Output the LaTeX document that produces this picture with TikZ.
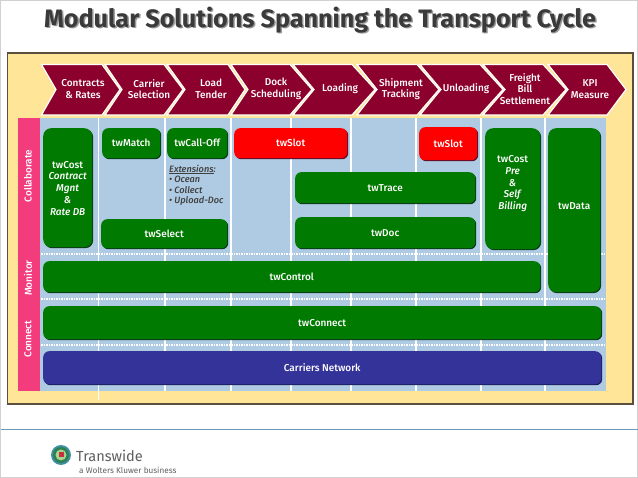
\documentclass[tikz,border=0pt]{standalone}
\usepackage{fontspec}
\setmainfont[BoldFont={Fira Sans Bold},ItalicFont={Fira Sans Medium Italic}]{Fira Sans Medium}
\newfontface\plainfont{Fira Sans}
\usetikzlibrary{shadows}
\definecolor{frameC}{HTML}{5A4F3F}
\definecolor{sandC}{HTML}{FFE597}
\definecolor{panelC}{HTML}{AECBE3}
\definecolor{pinkC}{HTML}{F23C7C}
\definecolor{wineC}{HTML}{8B002C}
\definecolor{greenC}{HTML}{017A01}
\definecolor{dgreenC}{HTML}{0B3A1A}
\definecolor{redC}{HTML}{FE0000}
\definecolor{dredC}{HTML}{5A1030}
\definecolor{blueC}{HTML}{333399}
\definecolor{dblueC}{HTML}{1A2060}
\definecolor{lineC}{HTML}{6F9AB8}
\definecolor{titleC}{HTML}{3A3A3A}
\definecolor{greyC}{HTML}{5F5F5F}
\definecolor{logoA}{HTML}{3F8FA5}
\definecolor{logoB}{HTML}{2E8050}
\definecolor{logoC}{HTML}{A5D490}
\definecolor{logoD}{HTML}{C83040}
\tikzset{
  blockbase/.style={anchor=north west,inner sep=0pt,text=white,align=center,font=\fontsize{10}{12}\selectfont,rounded corners=#1},
  blockbase/.default=6pt,
  greenbox/.style={blockbase=#1,fill=greenC,general shadow={fill=dgreenC,shadow xshift=1pt,shadow yshift=-1pt}},
  greenbox/.default=6pt,
  redbox/.style={blockbase,fill=redC,general shadow={fill=dredC,shadow xshift=1pt,shadow yshift=-1pt}},
  bluebox/.style={blockbase,fill=blueC,general shadow={fill=dblueC,shadow xshift=1pt,shadow yshift=-1pt}},
  chevshape/.style={fill=wineC,draw=white,line width=1.2pt,line join=miter},
  chevtext/.style={text=white,align=center,inner sep=0pt,font=\fontsize{10}{11.7}\selectfont},
  sidetext/.style={text=white,rotate=90,inner sep=0pt,font=\fontsize{10}{12}\selectfont},
  vline/.style={white,line width=1.4pt},
  dotline/.style={white,line width=1.6pt,dash pattern=on 1.5pt off 1pt},
  boxtext/.style={text=white,align=center,inner sep=0pt,font=\fontsize{10}{11.7}\selectfont},
}
\newcommand{\chevron}[7]{% left, notch, topright, tip, name, cx, text
  \path[chevshape] (#1,64.5) -- (#3,64.5) -- (#4,89.5) -- (#3,115) -- (#1,115) -- (#2,89.5) -- cycle;
  \node[chevtext] (#5) at (#6,89) {#7};
}
\begin{document}
\begin{tikzpicture}[x=1pt,y=-1pt]
\useasboundingbox (0,0) rectangle (638,478);
\draw[draw=black!18,fill=white,line width=1pt] (0.5,0.5) rectangle (637.5,477.5);
% title
\node[inner sep=0pt,text=black!40,font=\fontsize{25.2}{30}\bfseries\selectfont] (titleshadow) at (321.5,21.5) {Modular Solutions Spanning the Transport Cycle};
\node[inner sep=0pt,text=titleC,font=\fontsize{25.2}{30}\bfseries\selectfont] (title) at (320,20) {Modular Solutions Spanning the Transport Cycle};
% frame and panel
\draw[draw=frameC,fill=sandC,line width=1.6pt] (7.5,53) rectangle (633,404);
\fill[panelC] (40,118) rectangle (606,391);
\fill[pinkC] (18,118) rectangle (40,391);
\node[sidetext] (collab) at (28,176) {Collaborate};
\node[sidetext] (monitor) at (28,278) {Monitor};
\node[sidetext] (connect) at (28,339) {Connect};
% grid
\draw[vline] (98.5,118) -- (98.5,400);
\foreach \x in {165,231,291,351,416,481,545} \draw[vline] (\x,118) -- (\x,391);
\foreach \y in {254,299,345} \draw[dotline] (41,\y) -- (606,\y);
% chevrons
\chevron{41.5}{56}{102}{120}{c1}{83}{Contracts\\\& Rates}
\chevron{105}{122}{164}{183}{c2}{149}{Carrier\\Selection}
\chevron{167}{185}{228}{245}{c3}{211}{Load\\Tender}
\chevron{231}{248}{290}{312}{c4}{276}{Dock\\Scheduling}
\chevron{293}{314}{352}{375}{c5}{340}{Loading}
\chevron{357}{377}{417}{439}{c6}{401}{Shipment\\Tracking}
\chevron{420}{441}{480}{503}{c7}{466}{Unloading}
\chevron{483}{505}{543}{566}{c8}{525}{Freight\\Bill\\Settlement}
\chevron{548}{568}{607}{626}{c9}{590}{KPI\\Measure}
% blocks
\node[greenbox=8pt,minimum width=49pt,minimum height=119pt] (costA) at (43,128) {};
\node[boxtext,yshift=-0.5pt] (costAtext) at (costA.center) {twCost\\\textit{Contract}\\\textit{Mgnt}\\\textit{\&}\\\textit{Rate DB}};
\node[greenbox,minimum width=58pt,minimum height=30pt] (match) at (102,128) {twMatch};
\node[greenbox,minimum width=60pt,minimum height=30pt] (calloff) at (167,128) {twCall-Off};
\node[redbox,minimum width=113pt,minimum height=30pt] (slotA) at (234,128) {twSlot};
\node[redbox,minimum width=58pt,minimum height=33pt] (slotB) at (419,127) {twSlot};
\node[greenbox=8pt,minimum width=55pt,minimum height=121pt] (costB) at (485,128) {};
\node[boxtext,yshift=5pt] (costBtext) at (costB.center) {twCost\\\textit{Pre}\\\textit{\&}\\\textit{Self}\\\textit{Billing}};
\node[greenbox=8pt,minimum width=52pt,minimum height=164pt] (data) at (548,128) {};
\node[boxtext,yshift=4pt] (datatext) at (data.center) {twData};
\node[greenbox,minimum width=180pt,minimum height=31pt] (trace) at (295,172) {twTrace};
\node[greenbox,minimum width=180pt,minimum height=31pt] (doc) at (295,217) {twDoc};
\node[greenbox,minimum width=126pt,minimum height=29pt] (select) at (101,219) {twSelect};
\node[greenbox,minimum width=497pt,minimum height=31pt] (control) at (43,261) {twControl};
\node[greenbox,minimum width=558pt,minimum height=33pt] (connectbox) at (43,306) {twConnect};
\node[bluebox,minimum width=558pt,minimum height=33pt] (carriers) at (43,351) {Carriers Network};
% extensions
\node[anchor=north west,inner sep=0pt,align=left,text=black!75,font=\fontsize{9.2}{10.6}\itshape\selectfont] (ext) at (169,164.5) {\underline{Extensions}:\\• Ocean\\• Collect\\• Upload-Doc};
% footer
\draw[lineC,line width=1pt] (0.5,430) -- (637.5,430);
\fill[logoA] (61,455) circle (10);
\fill[logoB] (61,455) circle (8);
\fill[logoC] (61,455) circle (5.5);
\fill[logoD] (58.5,452.5) rectangle (63.5,457.5);
\node[anchor=west,inner sep=0pt,text=greyC,font=\plainfont\fontsize{14.6}{18}\selectfont] (brand) at (76,456) {Transwide};
\node[anchor=west,inner sep=0pt,text=greyC,font=\plainfont\fontsize{8.2}{10}\selectfont] (tagline) at (79,470.5) {a Wolters Kluwer business};
\end{tikzpicture}
\end{document}
